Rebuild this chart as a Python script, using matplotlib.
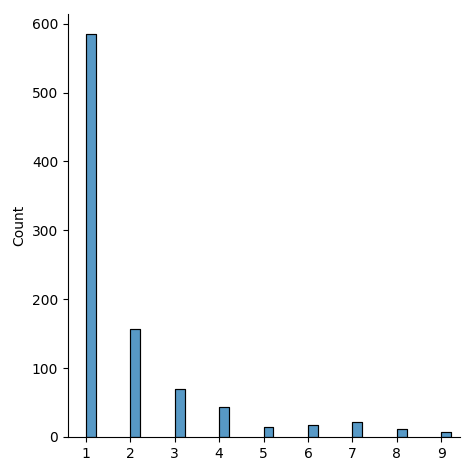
import matplotlib
matplotlib.use("Agg")
import matplotlib.pyplot as plt

values = [1, 2, 3, 4, 5, 6, 7, 8, 9]
counts = [585, 157, 70, 44, 15, 18, 22, 12, 7]

fig = plt.figure(figsize=(4.74, 4.74), dpi=100)
ax = fig.add_axes([68/474, 37/474, (460-68)/474, (437-14)/474])
ax.bar(values, counts, width=8/36, align='edge', color='#1f77b4', alpha=0.75,
       edgecolor='black', linewidth=0.8)
ax.bar(values, counts, width=8/36, align='edge', color='none',
       edgecolor='black', linewidth=0.8)
ax.set_ylabel("Count")
ax.set_xticks(values)
ax.set_xlim(0.6, 9.42)
ax.set_ylim(0, 614)
ax.spines['top'].set_visible(False)
ax.spines['right'].set_visible(False)
fig.savefig("out.png", dpi=100)
